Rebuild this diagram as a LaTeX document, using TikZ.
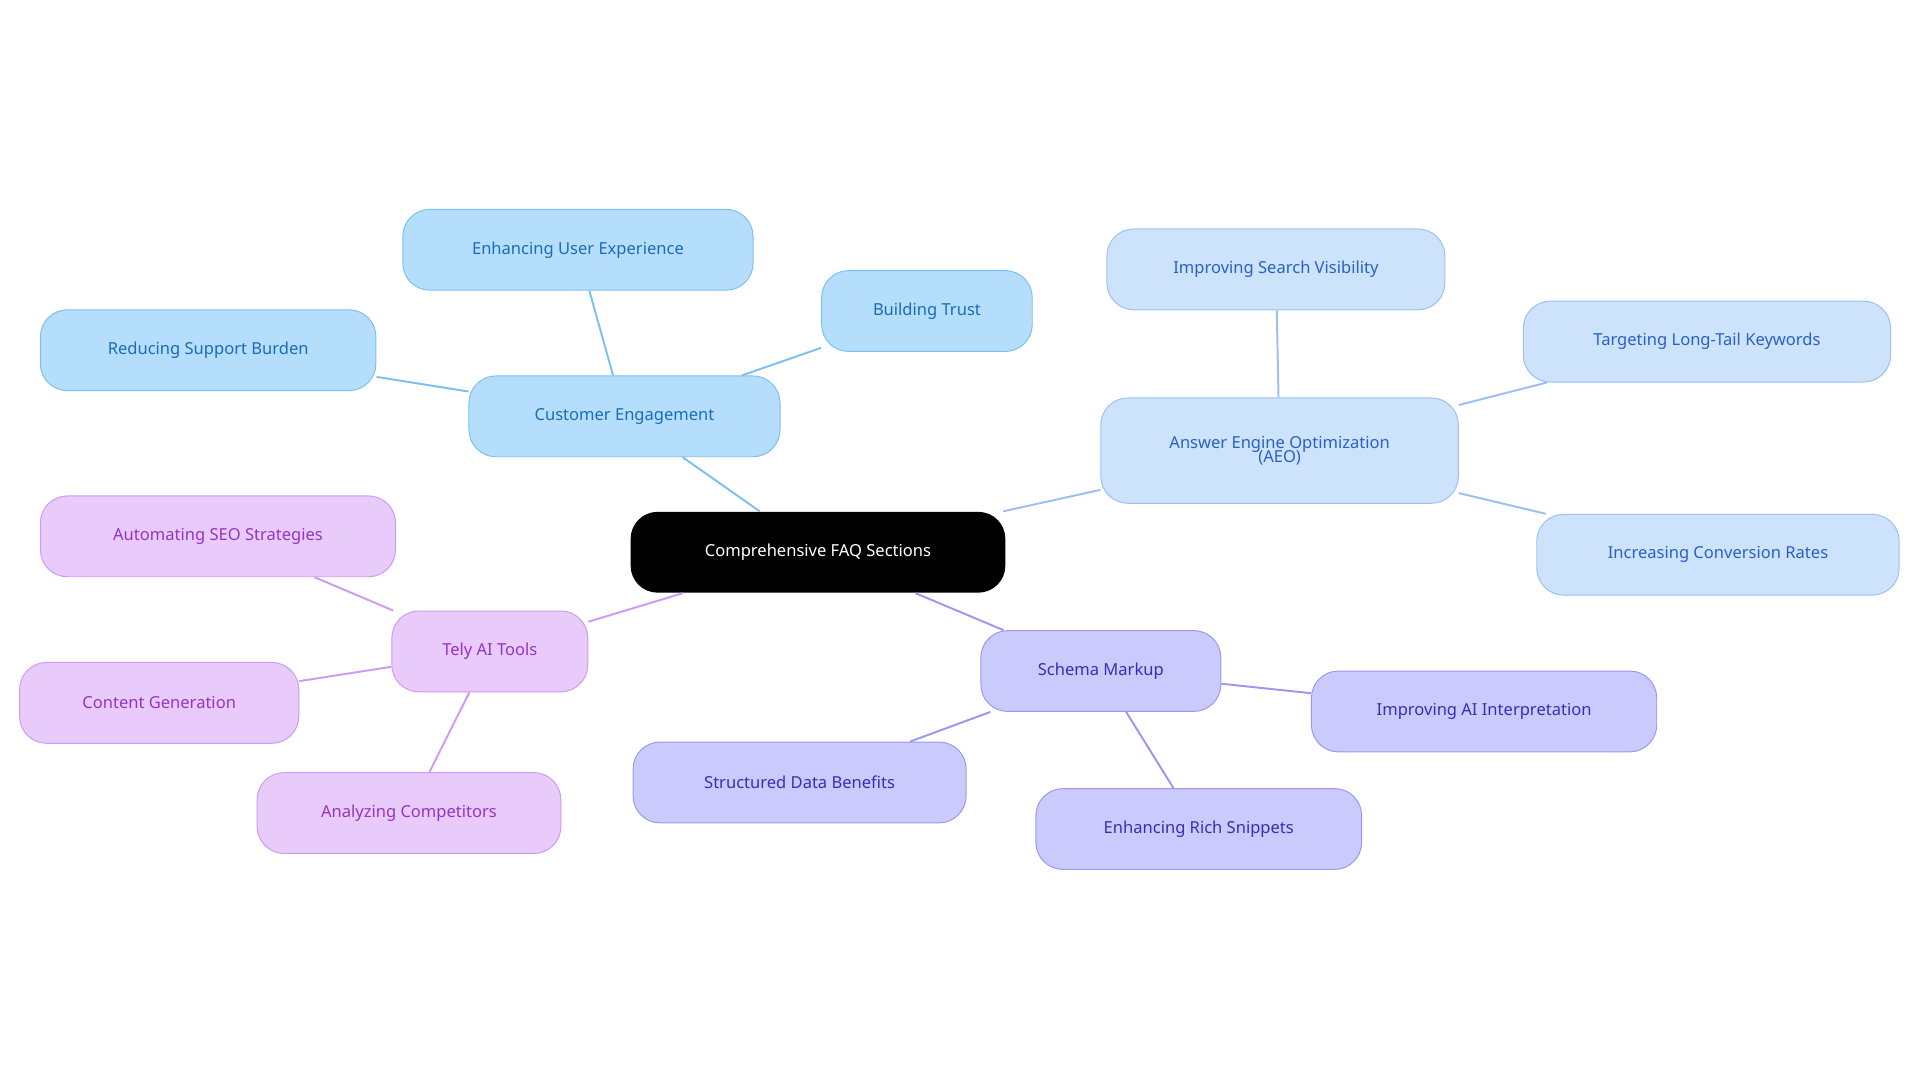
\documentclass[tikz,border=0pt]{standalone}
\usepackage{fontspec}
\setmainfont{Noto Sans}
\begin{document}
\begin{tikzpicture}[x=1pt,y=-1pt,
base/.style={rounded corners=22pt,minimum height=66pt,align=center,font=\fontsize{13.5}{14}\selectfont,line width=0.8pt,inner sep=2pt},
ce/.style={base,fill=cefill,draw=celine,text=cetext},
ae/.style={base,fill=aefill,draw=aeline,text=aetext},
sm/.style={base,fill=smfill,draw=smline,text=smtext},
ty/.style={base,fill=tyfill,draw=tyline,text=tytext},
el/.style={line width=1.6pt}]
\definecolor{cefill}{HTML}{B5DEFC}\definecolor{celine}{HTML}{7DC0EE}\definecolor{cetext}{HTML}{1A6DBA}
\definecolor{aefill}{HTML}{CDE2FB}\definecolor{aeline}{HTML}{9CC0F0}\definecolor{aetext}{HTML}{2862C6}
\definecolor{smfill}{HTML}{CACAFD}\definecolor{smline}{HTML}{9C98F0}\definecolor{smtext}{HTML}{3A2EB5}
\definecolor{tyfill}{HTML}{E8CAFB}\definecolor{tyline}{HTML}{CF9AF0}\definecolor{tytext}{HTML}{9634C6}
\useasboundingbox (0,0) rectangle (1568,884);
\node[base,fill=black!90!blue!60!black,fill=cefill!0!black,draw=none,text=white,minimum width=306pt] (c) at (668,451) {Comprehensive FAQ Sections};
\node[ce,minimum width=254pt] (ce) at (510,340) {Customer Engagement};
\node[ce,minimum width=286pt] (ce1) at (472,204) {Enhancing User Experience};
\node[ce,minimum width=172pt] (ce2) at (757,254) {Building Trust};
\node[ce,minimum width=274pt] (ce3) at (170,286) {Reducing Support Burden};
\node[ae,minimum width=292pt,minimum height=86pt] (ae) at (1045,368) {Answer Engine Optimization\\[-3pt](AEO)};
\node[ae,minimum width=276pt] (ae1) at (1042,220) {Improving Search Visibility};
\node[ae,minimum width=300pt] (ae2) at (1394,279) {Targeting Long-Tail Keywords};
\node[ae,minimum width=296pt] (ae3) at (1403,453) {Increasing Conversion Rates};
\node[sm,minimum width=196pt] (sm) at (899,548) {Schema Markup};
\node[sm,minimum width=282pt] (sm1) at (1212,581) {Improving AI Interpretation};
\node[sm,minimum width=266pt] (sm2) at (979,677) {Enhancing Rich Snippets};
\node[sm,minimum width=272pt] (sm3) at (653,639) {Structured Data Benefits};
\node[ty,minimum width=160pt] (ty) at (400,532) {Tely AI Tools};
\node[ty,minimum width=290pt] (ty1) at (178,438) {Automating SEO Strategies};
\node[ty,minimum width=228pt] (ty2) at (130,574) {Content Generation};
\node[ty,minimum width=248pt] (ty3) at (334,664) {Analyzing Competitors};
\draw[el,celine] (c)--(ce) (ce)--(ce1) (ce)--(ce2) (ce)--(ce3);
\draw[el,aeline] (c)--(ae) (ae)--(ae1) (ae)--(ae2) (ae)--(ae3);
\draw[el,smline] (c)--(sm) (sm)--(sm1) (sm)--(sm2) (sm)--(sm3);
\draw[el,tyline] (c)--(ty) (ty)--(ty1) (ty)--(ty2) (ty)--(ty3);
\end{tikzpicture}
\end{document}
